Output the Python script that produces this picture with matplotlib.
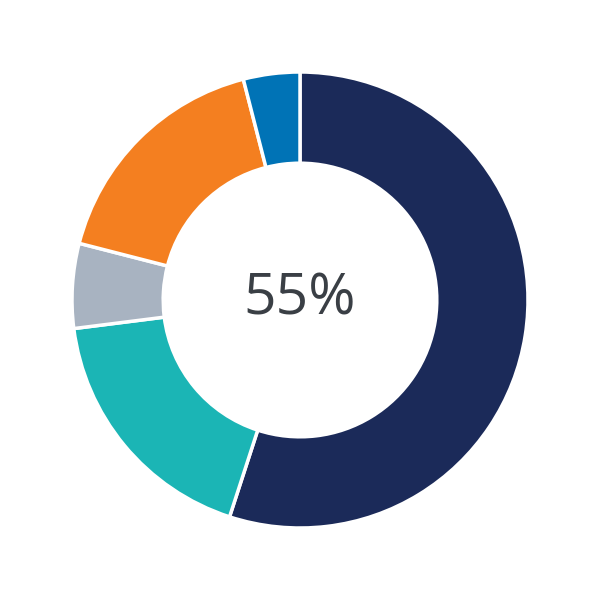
import matplotlib.pyplot as plt

# share of each segment, clockwise from 12 o'clock
labels = ["Navy", "Teal", "Gray", "Orange", "Blue"]
values = [55, 18, 6, 17, 4]
colors = ["#1b2a59", "#1bb5b5", "#a8b3c1", "#f47f20", "#0073b6"]
center_text = "55%"

fig = plt.figure(figsize=(6, 6), dpi=100)
ax = fig.add_axes([0, 0, 1, 1])
ax.pie(values, colors=colors, startangle=90, counterclock=False, radius=1,
       wedgeprops={"width": 0.4, "edgecolor": "white", "linewidth": 2.5})
ax.text(0, 0, center_text, ha="center", va="center", fontsize=41,
        color="#3a3f45", family="Open Sans")
lim = 300 / 228
ax.set_xlim(-lim, lim)
ax.set_ylim(-lim, lim)
ax.set_aspect("equal")
ax.axis("off")
fig.savefig("out.png")
